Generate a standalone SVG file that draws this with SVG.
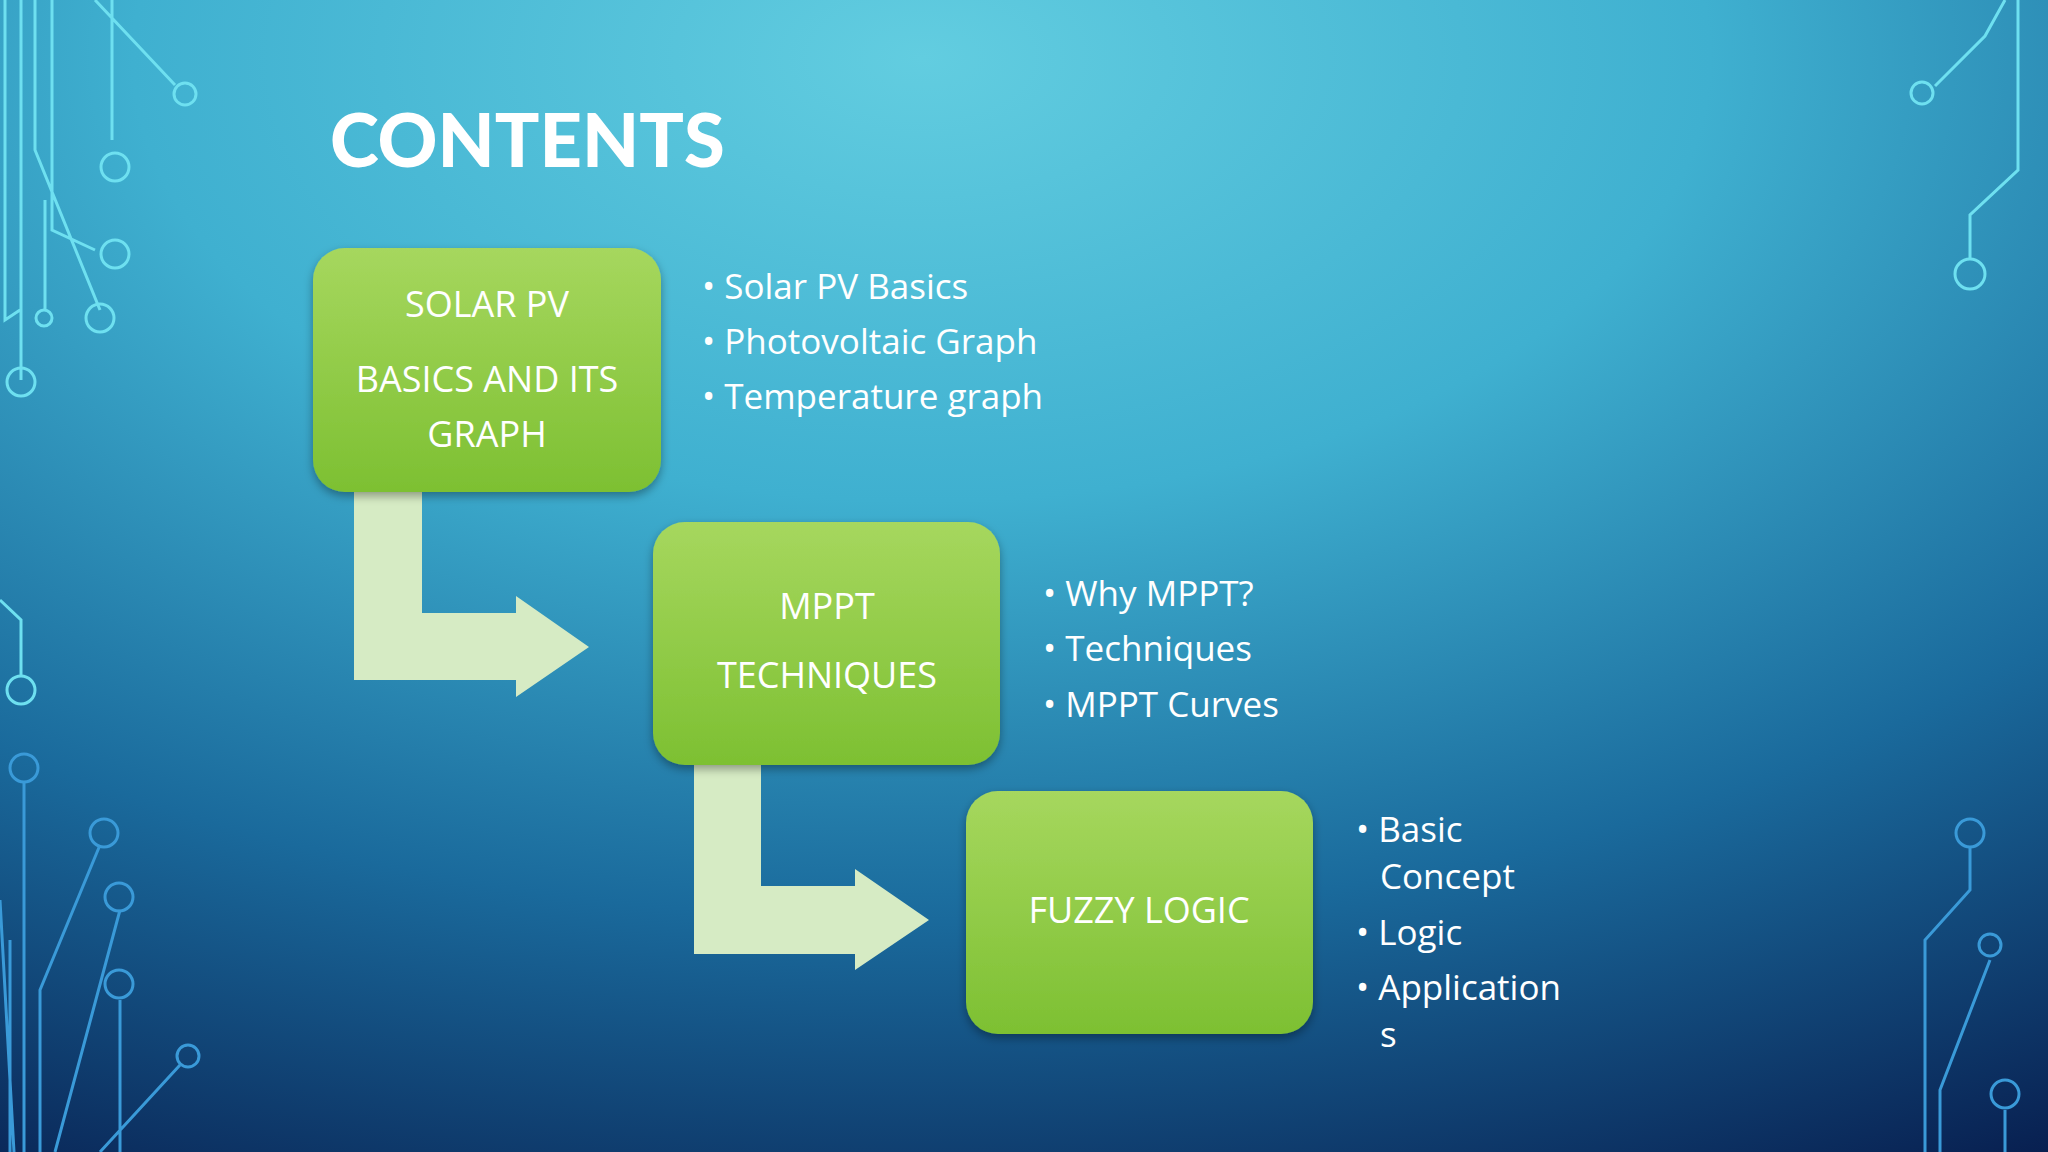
<svg xmlns="http://www.w3.org/2000/svg" width="2048" height="1152" viewBox="0 0 2048 1152">
<defs>
<radialGradient id="bg" cx="0.45" cy="0.05" r="1.1" fx="0.45" fy="0.05">
<stop offset="0" stop-color="#62cde0"/>
<stop offset="0.35" stop-color="#3fb0d0"/>
<stop offset="0.68" stop-color="#1a6a9c"/>
<stop offset="1" stop-color="#081f50"/>
</radialGradient>
<linearGradient id="box" x1="0" y1="0" x2="0" y2="1">
<stop offset="0" stop-color="#a6d75e"/>
<stop offset="1" stop-color="#7dc032"/>
</linearGradient>
<filter id="sh" x="-10%" y="-10%" width="130%" height="130%"><feDropShadow dx="0" dy="4" stdDeviation="5" flood-opacity="0.35"/></filter>
<style>
.bx{fill:url(#box);filter:url(#sh)}
.bt{font-family:"Open Sans","Liberation Sans",sans-serif;font-size:36px;fill:#fff;text-anchor:middle}
.li{font-family:"Open Sans","Liberation Sans",sans-serif;font-size:35px;fill:#fff}
.ar{fill:#d6ebc4}
.c{fill:none;stroke:#6ee0f0;stroke-width:3}
.c2{fill:none;stroke:#3a9ad8;stroke-width:3}
</style>
</defs>
<rect width="2048" height="1152" fill="url(#bg)"/>
<g id="circuits">
<path class="c" d="M21 0V380M35 0V150L100 310M52 0V230L95 250M112 0V140M95 0L175 85M5 0V320L20 310M45 200V310"/>
<circle class="c" cx="185" cy="94" r="11"/><circle class="c" cx="115" cy="167" r="14"/><circle class="c" cx="115" cy="254" r="14"/><circle class="c" cx="100" cy="318" r="14"/><circle class="c" cx="44" cy="318" r="8"/><circle class="c" cx="21" cy="382" r="14"/>
<path class="c" d="M0 600L21 620V675"/><circle class="c" cx="21" cy="690" r="14"/>
<path class="c2" d="M24 782V1152M10 940V1152M40 1152V990L100 845M55 1152L120 910M120 1000V1152M100 1152L180 1065M0 900L14 1152"/>
<circle class="c2" cx="24" cy="768" r="14"/><circle class="c2" cx="104" cy="833" r="14"/><circle class="c2" cx="119" cy="897" r="14"/><circle class="c2" cx="119" cy="984" r="14"/><circle class="c2" cx="188" cy="1056" r="11"/>
<path class="c" d="M1935 86L1985 36L2005 0M1970 258V215L2018 170V0"/><circle class="c" cx="1922" cy="93" r="11"/><circle class="c" cx="1970" cy="274" r="15"/>
<path class="c2" d="M1970 848V890L1925 940V1152M1990 960L1940 1090V1152M2005 1152V1110"/><circle class="c2" cx="1970" cy="833" r="14"/><circle class="c2" cx="1990" cy="945" r="11"/><circle class="c2" cx="2005" cy="1094" r="14"/>
</g>
<text x="330" y="167" font-family="Lato,'Liberation Sans',sans-serif" font-weight="900" font-size="74" fill="#fff">CONTENTS</text>
<g id="connectors">
<path class="ar" d="M354 492H422V613H516V596L589 647L516 697V680H354Z"/>
<path class="ar" d="M694 765H761V886H855V869L929 920L855 970V954H694Z"/>
</g>
<g id="node1"><rect class="bx" x="313" y="248" width="348" height="244" rx="32"/>
<text class="bt" x="487" y="317">SOLAR PV</text><text class="bt" x="487" y="392">BASICS AND ITS</text><text class="bt" x="487" y="447">GRAPH</text></g>
<g id="node2"><rect class="bx" x="653" y="522" width="347" height="243" rx="32"/>
<text class="bt" x="827" y="619">MPPT</text><text class="bt" x="827" y="688">TECHNIQUES</text></g>
<g id="node3"><rect class="bx" x="966" y="791" width="347" height="243" rx="32"/>
<text class="bt" x="1139" y="923">FUZZY LOGIC</text></g>
<g id="list1" class="li"><text x="702" y="299">• Solar PV Basics</text><text x="702" y="354">• Photovoltaic Graph</text><text x="702" y="409">• Temperature graph</text></g>
<g id="list2" class="li"><text x="1043" y="606">• Why MPPT?</text><text x="1043" y="661">• Techniques</text><text x="1043" y="717">• MPPT Curves</text></g>
<g id="list3" class="li"><text x="1356" y="842">• Basic</text><text x="1380" y="889">Concept</text><text x="1356" y="945">• Logic</text><text x="1356" y="1000">• Application</text><text x="1380" y="1047">s</text></g>
</svg>
